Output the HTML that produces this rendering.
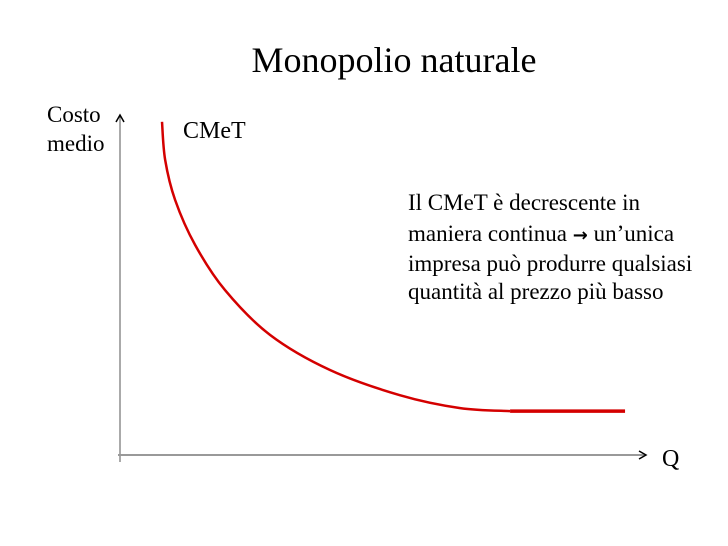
<!DOCTYPE html>
<html><head><meta charset="utf-8"><style>
body{margin:0;background:#fff;}
svg{display:block;font-family:"Liberation Serif",serif;}
</style></head><body>
<svg id="chart" width="728" height="546" viewBox="0 0 728 546">
<text x="394" y="72" font-size="36" text-anchor="middle">Monopolio naturale</text>
<text x="47" y="122" font-size="23">Costo</text>
<text x="47" y="151" font-size="23">medio</text>
<text x="183" y="138" font-size="24">CMeT</text>
<line x1="120" y1="462" x2="120" y2="115" stroke="#555" stroke-width="1"/>
<polyline points="116,122 120,115 124,122" fill="none" stroke="#000" stroke-width="1.5"/>
<line x1="118" y1="455" x2="645" y2="455" stroke="#999" stroke-width="2"/>
<polyline points="639,451 646,455 639,459" fill="none" stroke="#000" stroke-width="1.5"/>
<text x="662" y="466" font-size="24">Q</text>
<g font-size="23">
<text x="408" y="210">Il CMeT è decrescente in</text>
<text x="408" y="241">maniera continua <tspan font-family="DejaVu Sans" font-weight="bold" font-size="18">→</tspan> un’unica</text>
<text x="408" y="271">impresa può produrre qualsiasi</text>
<text x="408" y="299">quantità al prezzo più basso</text>
</g>
</svg>
<script>
const quantities = [8, 8.6, 10.5, 14.3, 20, 28.6, 40, 53.3, 64.8, 74.3];
const costs = [98, 86.8, 75, 61.8, 48.5, 35.3, 25, 17.6, 13.8, 12.9];
const flatQ = [74.3, 96.2];
const flatC = [12.9, 12.9];
function xs(q){return 120 + q*5.25;}
function ys(c){return 455 - c*3.4;}
const svg = document.getElementById('chart');
const NS = 'http://www.w3.org/2000/svg';
let d = '';
const P = quantities.map((q,i)=>[xs(q), ys(costs[i])]);
d = 'M' + P[0][0] + ',' + P[0][1];
for (let i=0;i<P.length-1;i++){
  const p0=P[i-1]||P[i], p1=P[i], p2=P[i+1], p3=P[i+2]||P[i+1];
  const c1x=p1[0]+(p2[0]-p0[0])/6, c1y=p1[1]+(p2[1]-p0[1])/6;
  const c2x=p2[0]-(p3[0]-p1[0])/6, c2y=p2[1]-(p3[1]-p1[1])/6;
  d += ' C'+c1x+','+c1y+' '+c2x+','+c2y+' '+p2[0]+','+p2[1];
}
const path = document.createElementNS(NS,'path');
path.setAttribute('d', d);
path.setAttribute('fill','none');
path.setAttribute('stroke','#d40000');
path.setAttribute('stroke-width','2.5');


svg.appendChild(path);
const flat = document.createElementNS(NS,'line');
flat.setAttribute('x1', xs(flatQ[0]));
flat.setAttribute('y1', ys(flatC[0]));
flat.setAttribute('x2', xs(flatQ[1]));
flat.setAttribute('y2', ys(flatC[1]));
flat.setAttribute('stroke','#d40000');
flat.setAttribute('stroke-width','3.5');


svg.appendChild(flat);
</script>
</body></html>
